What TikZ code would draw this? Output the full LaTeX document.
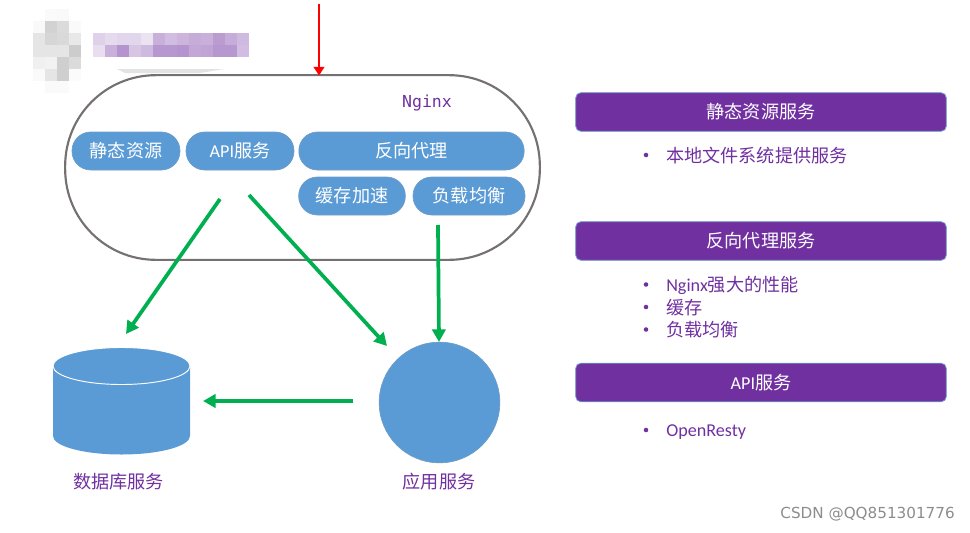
\documentclass[tikz,border=0pt]{standalone}
\usepackage{fontspec}
\setmainfont{Carlito}
\newfontfamily\cjk{Noto Sans CJK SC}
\newfontfamily\monof{DejaVu Sans Mono}
\usetikzlibrary{arrows.meta,shapes.geometric}
\definecolor{pilla}{HTML}{5B9BD5}
\definecolor{purp}{HTML}{7030A0}
\definecolor{gline}{HTML}{00B050}
\definecolor{edgeb}{HTML}{6E9CC8}
\definecolor{contour}{HTML}{767171}
\newcommand{\zh}[1]{{\cjk #1}}
\newcommand{\cell}[3]{\fill[fill=#3] (#1,#2) rectangle ++(12,12);}
\tikzset{
  x=0.75pt,y=-0.75pt,
  pill/.style={draw=edgeb,line width=0.5pt,fill=pilla,rounded corners=14pt,text=white,font=\fontsize{13.6}{15}\selectfont,inner sep=0pt,minimum height=28.5pt},
  header/.style={draw=edgeb,line width=0.6pt,fill=purp,rounded corners=4pt,text=white,font=\fontsize{13.6}{15}\selectfont,inner sep=0pt,minimum width=278pt,minimum height=29pt},
  label/.style={text=purp,font=\fontsize{13.6}{15}\selectfont,inner sep=0pt,anchor=west},
  caption/.style={text=purp,font=\fontsize{13.6}{15}\selectfont,inner sep=0pt},
  bullet/.style={circle,fill=purp,inner sep=0pt,minimum size=3.4pt},
  greenarrow/.style={draw=gline,line width=2.8pt,-{Triangle[length=9.5pt,width=10pt]}},
  redarrow/.style={draw=red,line width=1.9pt,-{Triangle[length=6.5pt,width=8pt]}},
}
\begin{document}
\begin{tikzpicture}
\useasboundingbox (0,0) rectangle (970,532);
% blurred logo
\cell{45}{9}{gray!4}\cell{57}{9}{gray!5}
\cell{33}{21}{gray!5}\cell{45}{21}{gray!35}\cell{57}{21}{gray!28}\cell{69}{21}{gray!4}
\cell{33}{33}{gray!20}\cell{45}{33}{gray!32}\cell{57}{33}{gray!30}\cell{69}{33}{gray!18}
\cell{33}{45}{gray!20}\cell{45}{45}{gray!20}\cell{57}{45}{gray!20}\cell{69}{45}{gray!40}
\cell{33}{57}{gray!12}\cell{45}{57}{gray!10}\cell{57}{57}{gray!38}\cell{69}{57}{gray!28}
\cell{33}{69}{gray!4}\cell{45}{69}{gray!20}\cell{57}{69}{gray!38}\cell{69}{69}{gray!3}
\cell{45}{81}{gray!4}\cell{57}{81}{gray!4}
\cell{93}{33}{purp!22}\cell{105}{33}{purp!18}\cell{117}{33}{purp!20}\cell{129}{33}{purp!20}\cell{141}{33}{purp!14}\cell{153}{33}{purp!38}\cell{165}{33}{purp!32}\cell{177}{33}{purp!36}\cell{189}{33}{purp!40}\cell{201}{33}{purp!38}\cell{213}{33}{purp!48}\cell{225}{33}{purp!40}\cell{237}{33}{purp!34}
\cell{93}{45}{purp!16}\cell{105}{45}{purp!38}\cell{117}{45}{purp!52}\cell{129}{45}{purp!28}\cell{141}{45}{purp!34}\cell{153}{45}{purp!50}\cell{165}{45}{purp!50}\cell{177}{45}{purp!52}\cell{189}{45}{purp!42}\cell{201}{45}{purp!44}\cell{213}{45}{purp!50}\cell{225}{45}{purp!50}\cell{237}{45}{purp!32}
\fill[gray!22] (117,69) -- (224,69) -- (200,73) -- (125,73) -- cycle;

% Nginx container
\node[draw=contour,line width=1.6pt,rounded corners=68pt,minimum width=356pt,minimum height=138.5pt,inner sep=0pt] (nginx) at (302.5,167.5) {};
\node[text=purp,font=\monof\fontsize{12.4}{14}\selectfont,inner sep=0pt] (nginxlabel) at (427,103) {Nginx};
\coordinate (redtop) at (319,4);
\draw[redarrow] (redtop) -- (319,75.5);

% Pills
\node[pill,minimum width=81pt] (static) at (126,151) {\zh{静态资源}};
\node[pill,minimum width=81pt] (api) at (240,151) {API\zh{服务}};
\node[pill,minimum width=169pt] (proxy) at (411.5,151) {\zh{反向代理}};
\node[pill,minimum width=80pt] (cache) at (352,196) {\zh{缓存加速}};
\node[pill,minimum width=84pt] (lb) at (469,196) {\zh{负载均衡}};

% Database
\fill[pilla] (53,366) -- (53,436) arc[x radius=68.5,y radius=18.5,start angle=180,end angle=0] -- (190,366) -- cycle;
\draw[white,line width=0.7pt,fill=pilla] (121.5,366) ellipse[x radius=68.5,y radius=18.5];
\node[inner sep=0pt,minimum width=103pt,minimum height=81pt] (db) at (121.5,401) {};
\node[circle,fill=pilla,draw=edgeb,line width=0.5pt,minimum size=90.5pt,inner sep=0pt] (app) at (439.5,402.5) {};
\node[caption] (dblabel) at (118.5,481.5) {\zh{数据库服务}};
\node[caption] (applabel) at (439,481.5) {\zh{应用服务}};

% Green arrows
\coordinate (a1) at (220,199);
\coordinate (a1e) at (126,334);
\coordinate (a2) at (249,195);
\coordinate (a2e) at (387,346);
\coordinate (a3) at (438,225);
\coordinate (a3e) at (439,342);
\coordinate (a4) at (353,401);
\coordinate (a4e) at (203,401);
\draw[greenarrow] (a1) -- (a1e);
\draw[greenarrow] (a2) -- (a2e);
\draw[greenarrow] (a3) -- (a3e);
\draw[greenarrow] (a4) -- (a4e);

% Right column
\node[header] (h1) at (761,112) {\zh{静态资源服务}};
\node[header] (h2) at (761,241) {\zh{反向代理服务}};
\node[header] (h3) at (761,382.5) {API\zh{服务}};

\node[bullet] (b1) at (646,155) {};
\node[label] (t1) at (666,155.5) {\zh{本地文件系统提供服务}};
\node[bullet] (b2) at (646,284.5) {};
\node[label] (t2) at (666,285) {Nginx\zh{强大的性能}};
\node[bullet] (b3) at (646,307) {};
\node[label] (t3) at (666,307.5) {\zh{缓存}};
\node[bullet] (b4) at (646,329.5) {};
\node[label] (t4) at (666,330) {\zh{负载均衡}};
\node[bullet] (b5) at (646,430) {};
\node[label,yshift=-1.5pt] (t5) at (666,430) {OpenResty};

\node[text=black!45,inner sep=0pt,anchor=east] (wm) at (955,514) {\fontspec{DejaVu Sans}\fontsize{11.4}{14}\selectfont CSDN @QQ851301776};
\end{tikzpicture}
\end{document}
